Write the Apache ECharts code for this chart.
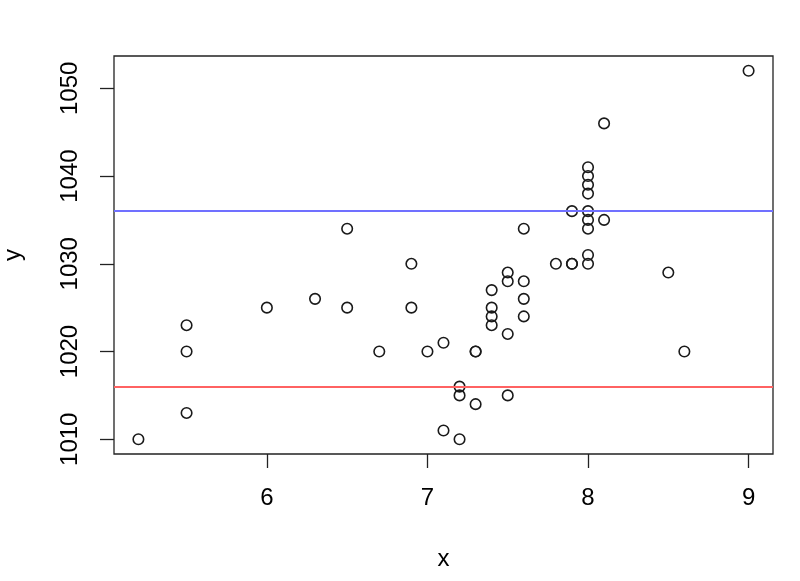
<!DOCTYPE html>
<html>
<head>
<meta charset="utf-8">
<script src="https://cdn.jsdelivr.net/npm/echarts@6/dist/echarts.min.js"></script>
<style>html,body{margin:0;padding:0;background:#fff}#c{width:800px;height:581px}</style>
</head>
<body>
<div id="c"></div>
<script>
var xs = [5.2, 5.5, 5.5, 5.5, 6.0, 6.3, 6.5, 6.5, 6.7, 6.9, 6.9, 7.0, 7.1, 7.1, 7.2, 7.2, 7.2, 7.3, 7.3, 7.3,
          7.4, 7.4, 7.4, 7.4, 7.5, 7.5, 7.5, 7.5, 7.6, 7.6, 7.6, 7.6, 7.8, 7.9, 7.9, 7.9,
          8.0, 8.0, 8.0, 8.0, 8.0, 8.0, 8.0, 8.0, 8.0, 8.1, 8.1, 8.5, 8.6, 9.0];
var ys = [1010, 1023, 1020, 1013, 1025, 1026, 1034, 1025, 1020, 1030, 1025, 1020, 1021, 1011, 1016, 1015, 1010, 1020, 1020, 1014,
          1027, 1025, 1024, 1023, 1029, 1028, 1022, 1015, 1034, 1028, 1026, 1024, 1030, 1030, 1030, 1036,
          1041, 1040, 1039, 1038, 1036, 1035, 1034, 1031, 1030, 1046, 1035, 1029, 1020, 1052];
var xTicks = [6, 7, 8, 9];
var yTicks = [1010, 1020, 1030, 1040, 1050];
var hLines = [1036, 1016];

var pts = xs.map(function (x, i) { return [x, ys[i]]; });
var xr = [Math.min.apply(null, xs), Math.max.apply(null, xs)];
var yr = [Math.min.apply(null, ys), Math.max.apply(null, ys)];
var xpad = (xr[1] - xr[0]) * 0.04, ypad = (yr[1] - yr[0]) * 0.04;
var font = '"Liberation Sans", Arial, sans-serif';
var plain = function (v) { return String(v); };

var chart = echarts.init(document.getElementById('c'), null, {renderer: 'canvas'});
chart.setOption({
  animation: false,
  backgroundColor: '#fff',
  grid: {left: 114, right: 27, top: 56, bottom: 127, containLabel: false, outerBoundsMode: 'none',
         show: true, borderColor: '#222', borderWidth: 1.3, backgroundColor: 'transparent'},
  xAxis: {
    type: 'value', min: xr[0] - xpad, max: xr[1] + xpad,
    name: 'x', nameLocation: 'middle', nameGap: 93,
    nameTextStyle: {fontFamily: font, fontSize: 24, color: '#000'},
    axisLine: {show: false},
    splitLine: {show: false},
    axisTick: {show: true, customValues: xTicks, length: 14, lineStyle: {color: '#222', width: 1.3}},
    axisLabel: {customValues: xTicks, formatter: plain, margin: 32, fontFamily: font, fontSize: 24, color: '#000'}
  },
  yAxis: {
    type: 'value', min: yr[0] - ypad, max: yr[1] + ypad,
    name: 'y', nameLocation: 'middle', nameGap: 89,
    nameTextStyle: {fontFamily: font, fontSize: 24, color: '#000'},
    axisLine: {show: false},
    splitLine: {show: false},
    axisTick: {show: true, customValues: yTicks, length: 14, lineStyle: {color: '#222', width: 1.3}},
    axisLabel: {customValues: yTicks, formatter: plain, rotate: 90, margin: 32, fontFamily: font, fontSize: 24, color: '#000'}
  },
  series: [{
    type: 'scatter',
    data: pts,
    symbol: 'circle',
    symbolSize: 10.5,
    itemStyle: {color: 'rgba(0,0,0,0)', borderColor: '#1a1a1a', borderWidth: 1.6, opacity: 1},
    markLine: {
      silent: true, symbol: ['none', 'none'], label: {show: false},
      data: [
        {yAxis: hLines[0], lineStyle: {color: '#7070ff', width: 2, type: 'solid', opacity: 1}},
        {yAxis: hLines[1], lineStyle: {color: '#ff6262', width: 2, type: 'solid', opacity: 1}}
      ]
    }
  }]
});
</script>
</body>
</html>
